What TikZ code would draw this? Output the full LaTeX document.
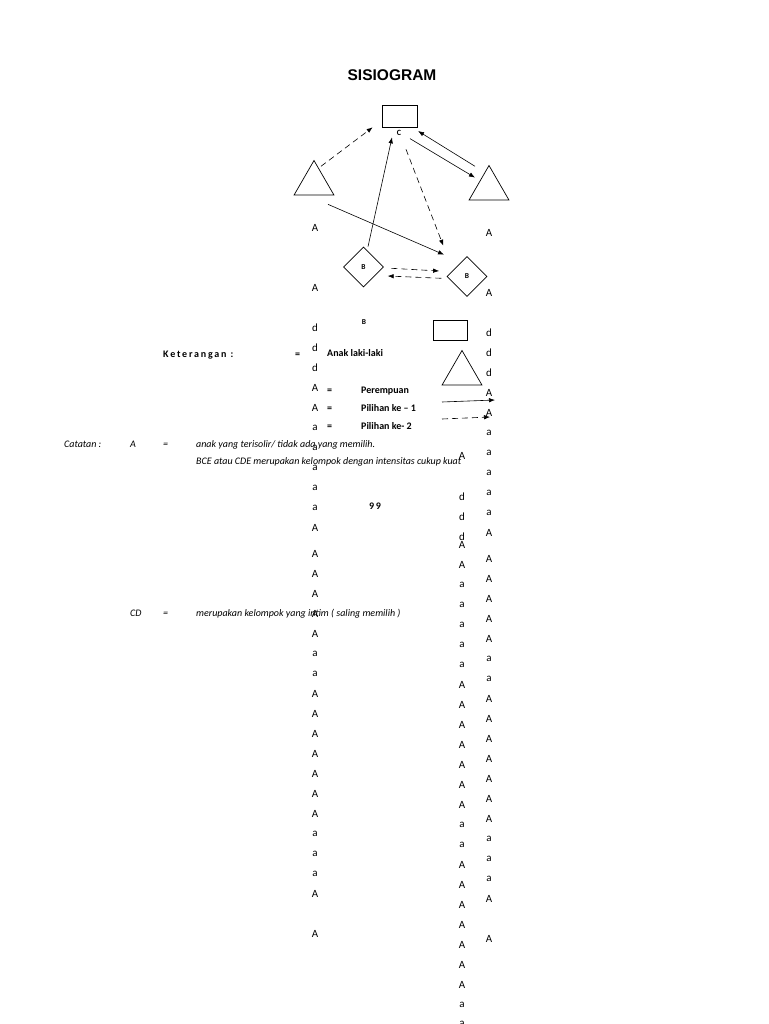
\documentclass[tikz,border=0pt]{standalone}
\usepackage{fontspec}
\setmainfont{Carlito}
\newfontfamily\judulfont{Liberation Sans Bold}
\usetikzlibrary{arrows.meta}
\usetikzlibrary{shapes.geometric}
\tikzset{huruf/.style = {inner sep = 0, font = \fontsize{11}{13}\selectfont}}
\tikzset{ket/.style = {inner sep = 0, anchor = base west, font = \fontsize{10}{12}\selectfont\bfseries}}
\tikzset{cat/.style = {inner sep = 0, anchor = base west, font = \fontsize{10}{12}\selectfont\itshape}}
\tikzset{kotak/.style = {draw, rectangle, inner sep = 0, line width = 0.7pt}}
\tikzset{segitiga/.style = {draw, regular polygon, regular polygon sides = 3, inner sep = 0,
                            minimum size = 46, line width = 0.7pt}}
\tikzset{belah/.style = {draw, diamond, inner sep = 0, minimum size = 40, line width = 0.7pt,
                         font = \fontsize{7.5}{8}\selectfont\bfseries}}
\tikzset{pil1/.style = {-{Latex[length=6pt, width=4.5pt]}, line width = 0.6pt}}
\tikzset{pil2/.style = {pil1, dash pattern = on 6pt off 4pt}}

\begin{document}
\begin{tikzpicture}[x = 1pt, y = -1pt]
    \useasboundingbox (0, 0) rectangle (768, 1024);

    % sosiogram
    \node [inner sep = 0, anchor = base, font = \judulfont\fontsize{15.5}{17}\selectfont]
          (judul) at (392, 80.5) {SISIOGRAM};
    \node [kotak, minimum width = 35, minimum height = 22] (C) at (399.5, 116) {};
    \node [inner sep = 0, font = \fontsize{8}{9}\selectfont\bfseries] (labC) at (399, 133) {C};
    \node [segitiga] (triL) at (314, 183.5) {};
    \node [segitiga] (triR) at (489, 188.5) {};
    \node [belah] (bL) at (363.5, 267) {B};
    \node [belah] (bR) at (467, 276.5) {B};

    \draw [pil2] ([xshift=7pt, yshift=-6.5pt]triL.north) -- ([xshift=-9pt]C.south west);
    \draw [pil1] ([xshift=10.5pt, yshift=-11.3pt]C.south) -- ([xshift=-14pt, yshift=-12.8pt]triR.north);
    \draw [pil1] ([xshift=-14pt, yshift=-1.5pt]triR.north) -- ([xshift=0.7pt, yshift=-3.7pt]C.south east);
    \draw [pil1] ([xshift=4.5pt]bL.north) -- ([xshift=-7.5pt, yshift=-10pt]C.south);
    \draw [pil2] ([xshift=6.5pt, yshift=-22pt]C.south) -- ([xshift=-23.7pt, yshift=10.5pt]bR.north);
    \draw [pil1] ([xshift=14pt, yshift=-9pt]triL.south) -- ([xshift=-23pt, yshift=1.5pt]bR.north);
    \draw [pil2] ([xshift=7.5pt, yshift=-1.3pt]bL.east) -- ([xshift=-7.5pt, yshift=5.5pt]bR.west);
    \draw [pil2] ([xshift=-5.2pt, yshift=-1.8pt]bR.west) -- ([xshift=3.8pt, yshift=-9pt]bL.east);

    % keterangan
    \node [inner sep = 0, font = \fontsize{7.5}{8}\selectfont\bfseries] (labB) at (364, 322) {B};
    \node [kotak, minimum width = 34, minimum height = 20] (kotakK) at (450, 330) {};
    \node [segitiga] (triK) at (462, 373.5) {};
    \coordinate (p1a) at (442, 402);
    \coordinate (p1b) at (495, 400);
    \coordinate (p2a) at (442, 419);
    \coordinate (p2b) at (490, 417);
    \draw [pil1] (p1a) -- (p1b);
    \draw [pil2] (p2a) -- (p2b);

    \node [ket, font = \fontsize{10}{12}\selectfont\bfseries\addfontfeatures{LetterSpace=18}]
          (ket) at (163, 357) {Keterangan :};
    \node [ket] (eq0) at (295, 357) {=};
    \node [ket] (laki) at (327, 356.5) {Anak laki-laki};
    \node [ket] (eq1) at (327, 393) {=};
    \node [ket] (prp) at (361, 393) {Perempuan};
    \node [ket] (eq2) at (327, 411) {=};
    \node [ket] (pil1t) at (361, 411) {Pilihan ke – 1};
    \node [ket] (eq3) at (327, 429) {=};
    \node [ket] (pil2t) at (361, 429) {Pilihan ke- 2};

    % catatan
    \node [cat] (catatan) at (64, 447.5) {Catatan :};
    \node [cat] (catA) at (130, 447.5) {A};
    \node [cat] (catEq) at (163, 447.5) {=};
    \node [cat] (catTxt) at (196, 447.5) {anak yang terisolir/ tidak ada yang memilih.};
    \node [cat] (bce) at (196, 464.5) {BCE atau CDE merupakan kelompok dengan intensitas cukup kuat};
    \node [ket, font = \fontsize{10}{12}\selectfont\bfseries\addfontfeatures{LetterSpace=15}]
          (sembilan) at (369, 509.5) {99};
    \node [cat] (cd) at (130, 616.5) {CD};
    \node [cat] (cdEq) at (163, 616.5) {=};
    \node [cat] (cdTxt) at (196, 616.5) {merupakan kelompok yang intim ( saling memilih )};

    % kolom huruf
    \foreach \y/\h [count=\i] in {228/A, 288/A, 328/d, 348/d, 368/d, 388/A, 408/A, 428/a,
        448/a, 468/a, 488/a, 508/a, 528/A, 554/A, 574/A, 594/A, 614/A, 634/A, 654/a, 674/a,
        694/A, 714/A, 734/A, 754/A, 774/A, 794/A, 814/A, 834/a, 854/a, 874/a, 894/A, 934/A}
        \node [huruf] (ka-\i) at (315, \y) {\h};
    \foreach \y/\h [count=\i] in {456/A, 497/d, 517/d, 537/d, 545/A, 565/A, 585/a, 605/a,
        625/a, 645/a, 665/a, 685/A, 705/A, 725/A, 745/A, 765/A, 785/A, 805/A, 825/a, 845/a,
        865/A, 885/A, 905/A, 925/A, 945/A, 965/A, 985/A, 1005/a, 1024/a}
        \node [huruf] (kb-\i) at (462, \y) {\h};
    \foreach \y/\h [count=\i] in {233/A, 293/A, 333/d, 353/d, 373/d, 393/A, 413/A, 433/a,
        453/a, 473/a, 493/a, 513/a, 533/A, 559/A, 579/A, 599/A, 619/A, 639/A, 659/a, 679/a,
        699/A, 719/A, 739/A, 759/A, 779/A, 799/A, 819/A, 839/a, 859/a, 879/a, 899/A, 939/A}
        \node [huruf] (kc-\i) at (489, \y) {\h};
\end{tikzpicture}
\end{document}
